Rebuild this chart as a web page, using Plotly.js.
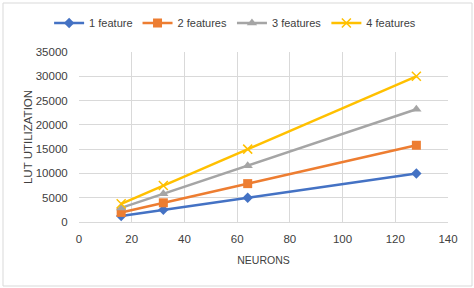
<!DOCTYPE html>
<html><head><meta charset="utf-8">
<script src="https://cdn.plot.ly/plotly-3.0.1.min.js"></script>
<style>html,body{margin:0;padding:0;background:#fff}#c{width:474px;height:288px}</style>
</head><body><div id="c"></div>
<script>
const neurons = [16, 32, 64, 128];
const oneFeature = [1250, 2500, 5000, 10000];
const twoFeatures = [1975, 3950, 7900, 15800];
const threeFeatures = [2900, 5800, 11600, 23200];
const fourFeatures = [3750, 7500, 15000, 30000];
const seriesNames = ["1 feature", "2 features", "3 features", "4 features"];

const colors = ["#4472C4", "#ED7D31", "#A5A5A5", "#FFC000"];
const symbols = ["diamond", "square", "triangle-up", "x-thin"];
const sizes = [8, 9, 9, 9];
const values = [oneFeature, twoFeatures, threeFeatures, fourFeatures];

const traces = values.map((v, i) => ({
  x: neurons, y: v, name: seriesNames[i], type: "scatter", mode: "lines+markers",
  line: {color: colors[i], width: 2.5},
  marker: {symbol: symbols[i], size: sizes[i], color: colors[i],
           line: {color: colors[i], width: i === 3 ? 1.5 : 0}}
}));

const ff = "Liberation Sans, Arial, sans-serif";
const font = {family: ff, size: 12, color: "#595959"};
const layout = {
  width: 474, height: 288,
  margin: {l: 79, r: 26, t: 52, b: 66, autoexpand: false},
  paper_bgcolor: "#fff", plot_bgcolor: "#fff",
  font: font,
  showlegend: true,
  legend: {orientation: "h", x: -0.081, xanchor: "left", y: 1.1706, yanchor: "middle",
           font: {family: ff, size: 11, color: "#404040"}, itemwidth: 30,
           bgcolor: "rgba(0,0,0,0)"},
  xaxis: {range: [0, 140], dtick: 20, tick0: 0, showgrid: true, gridcolor: "#d9d9d9", gridwidth: 1,
          zeroline: false, showline: true, linecolor: "#d9d9d9",
          ticks: "outside", ticklen: 6, tickcolor: "rgba(0,0,0,0)",
          tickfont: {family: ff, size: 11.5, color: "#404040"},
          title: {text: "NEURONS", font: {family: ff, size: 10.5, color: "#404040"}, standoff: 12}},
  yaxis: {range: [0, 35000], dtick: 5000, tick0: 0, tickformat: "d", showgrid: true, gridcolor: "#d9d9d9", gridwidth: 1,
          zeroline: false, showline: false,
          ticks: "outside", ticklen: 8, tickcolor: "rgba(0,0,0,0)",
          tickfont: {family: ff, size: 11.5, color: "#404040"},
          title: {text: "LUT UTILIZATION", font: {family: ff, size: 11.5, color: "#404040"}, standoff: 0}},
  shapes: [{type: "rect", xref: "paper", yref: "paper",
            x0: -76/369, x1: 1 + 24/369, y0: -64/170, y1: 1 + 49/170,
            line: {color: "#d9d9d9", width: 1}, fillcolor: "rgba(0,0,0,0)"}]
};
Plotly.newPlot("c", traces, layout, {displayModeBar: false, staticPlot: true});
</script></body></html>
